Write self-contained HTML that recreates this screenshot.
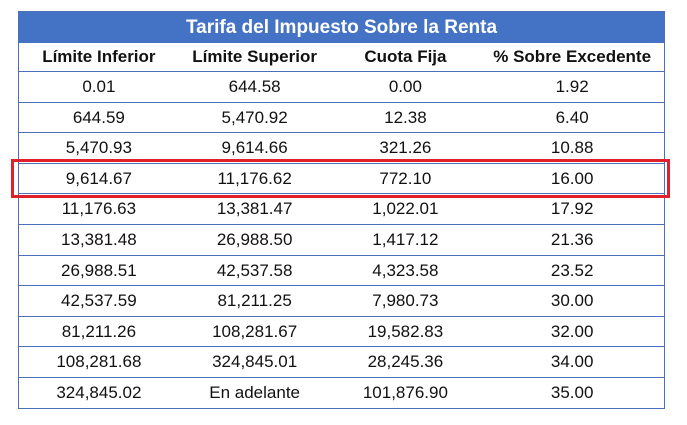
<!DOCTYPE html>
<html><head><meta charset="utf-8"><style>
*{box-sizing:border-box}
body{margin:0;width:687px;height:425px;background:#fff;position:relative;font-family:"Liberation Sans",Arial,sans-serif;overflow:hidden}
#tbl{position:absolute;left:18px;top:11px;width:647px;height:398px;border:1.5px solid #4a70b8}
#title{height:31px;background:#4472c4;color:#fff;font-weight:bold;font-size:19px;text-align:center;line-height:31px}
.row{display:flex;height:30.6px;line-height:29.6px;border-top:1px solid #4a70b8;font-size:17px;color:#111}
.hdr{height:28px;line-height:28px;font-weight:bold;border-top:none}
.row div{text-align:center}
.c1{width:160px}.c2{width:152px}.c3{width:150px}.c4{width:184px}
#hl{position:absolute;left:11px;top:159px;width:659px;height:39px;border:3.5px solid #e0202a}
</style></head><body>
<div id="tbl">
<div id="title">Tarifa del Impuesto Sobre la Renta</div>
<div class="row hdr"><div class="c1">Límite Inferior</div><div class="c2">Límite Superior</div><div class="c3">Cuota Fija</div><div class="c4">% Sobre Excedente</div></div>
<div id="body"></div>
</div>
<div id="hl"></div>
<script>
const lower=["0.01","644.59","5,470.93","9,614.67","11,176.63","13,381.48","26,988.51","42,537.59","81,211.26","108,281.68","324,845.02"];
const upper=["644.58","5,470.92","9,614.66","11,176.62","13,381.47","26,988.50","42,537.58","81,211.25","108,281.67","324,845.01","En adelante"];
const fixed=["0.00","12.38","321.26","772.10","1,022.01","1,417.12","4,323.58","7,980.73","19,582.83","28,245.36","101,876.90"];
const pct=["1.92","6.40","10.88","16.00","17.92","21.36","23.52","30.00","32.00","34.00","35.00"];
const b=document.getElementById('body');
for(let i=0;i<lower.length;i++){
const r=document.createElement('div');r.className='row';


[lower[i],upper[i],fixed[i],pct[i]].forEach((v,j)=>{const c=document.createElement('div');c.className='c'+(j+1);c.textContent=v;


r.appendChild(c);});
b.appendChild(r);}
</script>
</body></html>
